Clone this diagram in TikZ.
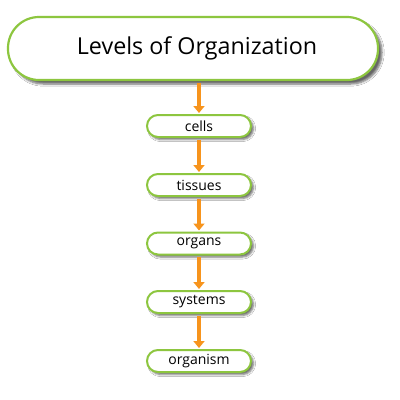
\documentclass[tikz,border=0pt]{standalone}
\usepackage{fontspec}
\setmainfont{Open Sans}
\usetikzlibrary{arrows.meta,shadows.blur}
\definecolor{boxgreen}{HTML}{8DC63F}
\definecolor{arrorange}{HTML}{F7941D}
\tikzset{
  x=1pt,y=1pt,
  bigbox/.style={draw=boxgreen,line width=2.2pt,fill=white,rounded corners=31pt,
    minimum width=370pt,minimum height=63pt,inner sep=0pt,
    blur shadow={shadow xshift=4pt,shadow yshift=-4pt,shadow blur steps=6,shadow opacity=60},
    font=\fontsize{23.3}{27}\selectfont},
  levelbox/.style={draw=boxgreen,line width=2pt,fill=white,rounded corners=11pt,
    minimum width=104pt,minimum height=22pt,inner sep=0pt,
    blur shadow={shadow xshift=2.5pt,shadow yshift=-2.5pt,shadow blur steps=4,shadow opacity=60},
    font=\fontsize{14}{16}\selectfont},
  levelarrow/.style={draw=arrorange,line width=3.2pt,-{Triangle[width=11pt,length=7pt]}}
}
\begin{document}
\begin{tikzpicture}
\useasboundingbox (0,0) rectangle (400,-400);
\fill[white] (0,0) rectangle (400,-400);
\node[bigbox] (title) at (193,-48.5) {\hspace*{8pt}Levels of Organization};
\node[levelbox] (cells) at (199,-126) {cells};
\node[levelbox] (tissues) at (199,-185) {tissues};
\node[levelbox] (organs) at (199,-243.5) {organs};
\node[levelbox] (systems) at (199,-302) {systems};
\node[levelbox] (organism) at (199,-361) {organism};
\draw[levelarrow] (title.south -| cells.north) ++(0,-2) coordinate (t0) (t0) -- ([yshift=1pt]cells.north);
\draw[levelarrow] ([yshift=-1.5pt]cells.south) -- ([yshift=1pt]tissues.north);
\draw[levelarrow] ([yshift=-1.5pt]tissues.south) -- ([yshift=1pt]organs.north);
\draw[levelarrow] ([yshift=-1.5pt]organs.south) -- ([yshift=1pt]systems.north);
\draw[levelarrow] ([yshift=-1.5pt]systems.south) -- ([yshift=1pt]organism.north);
\end{tikzpicture}
\end{document}
